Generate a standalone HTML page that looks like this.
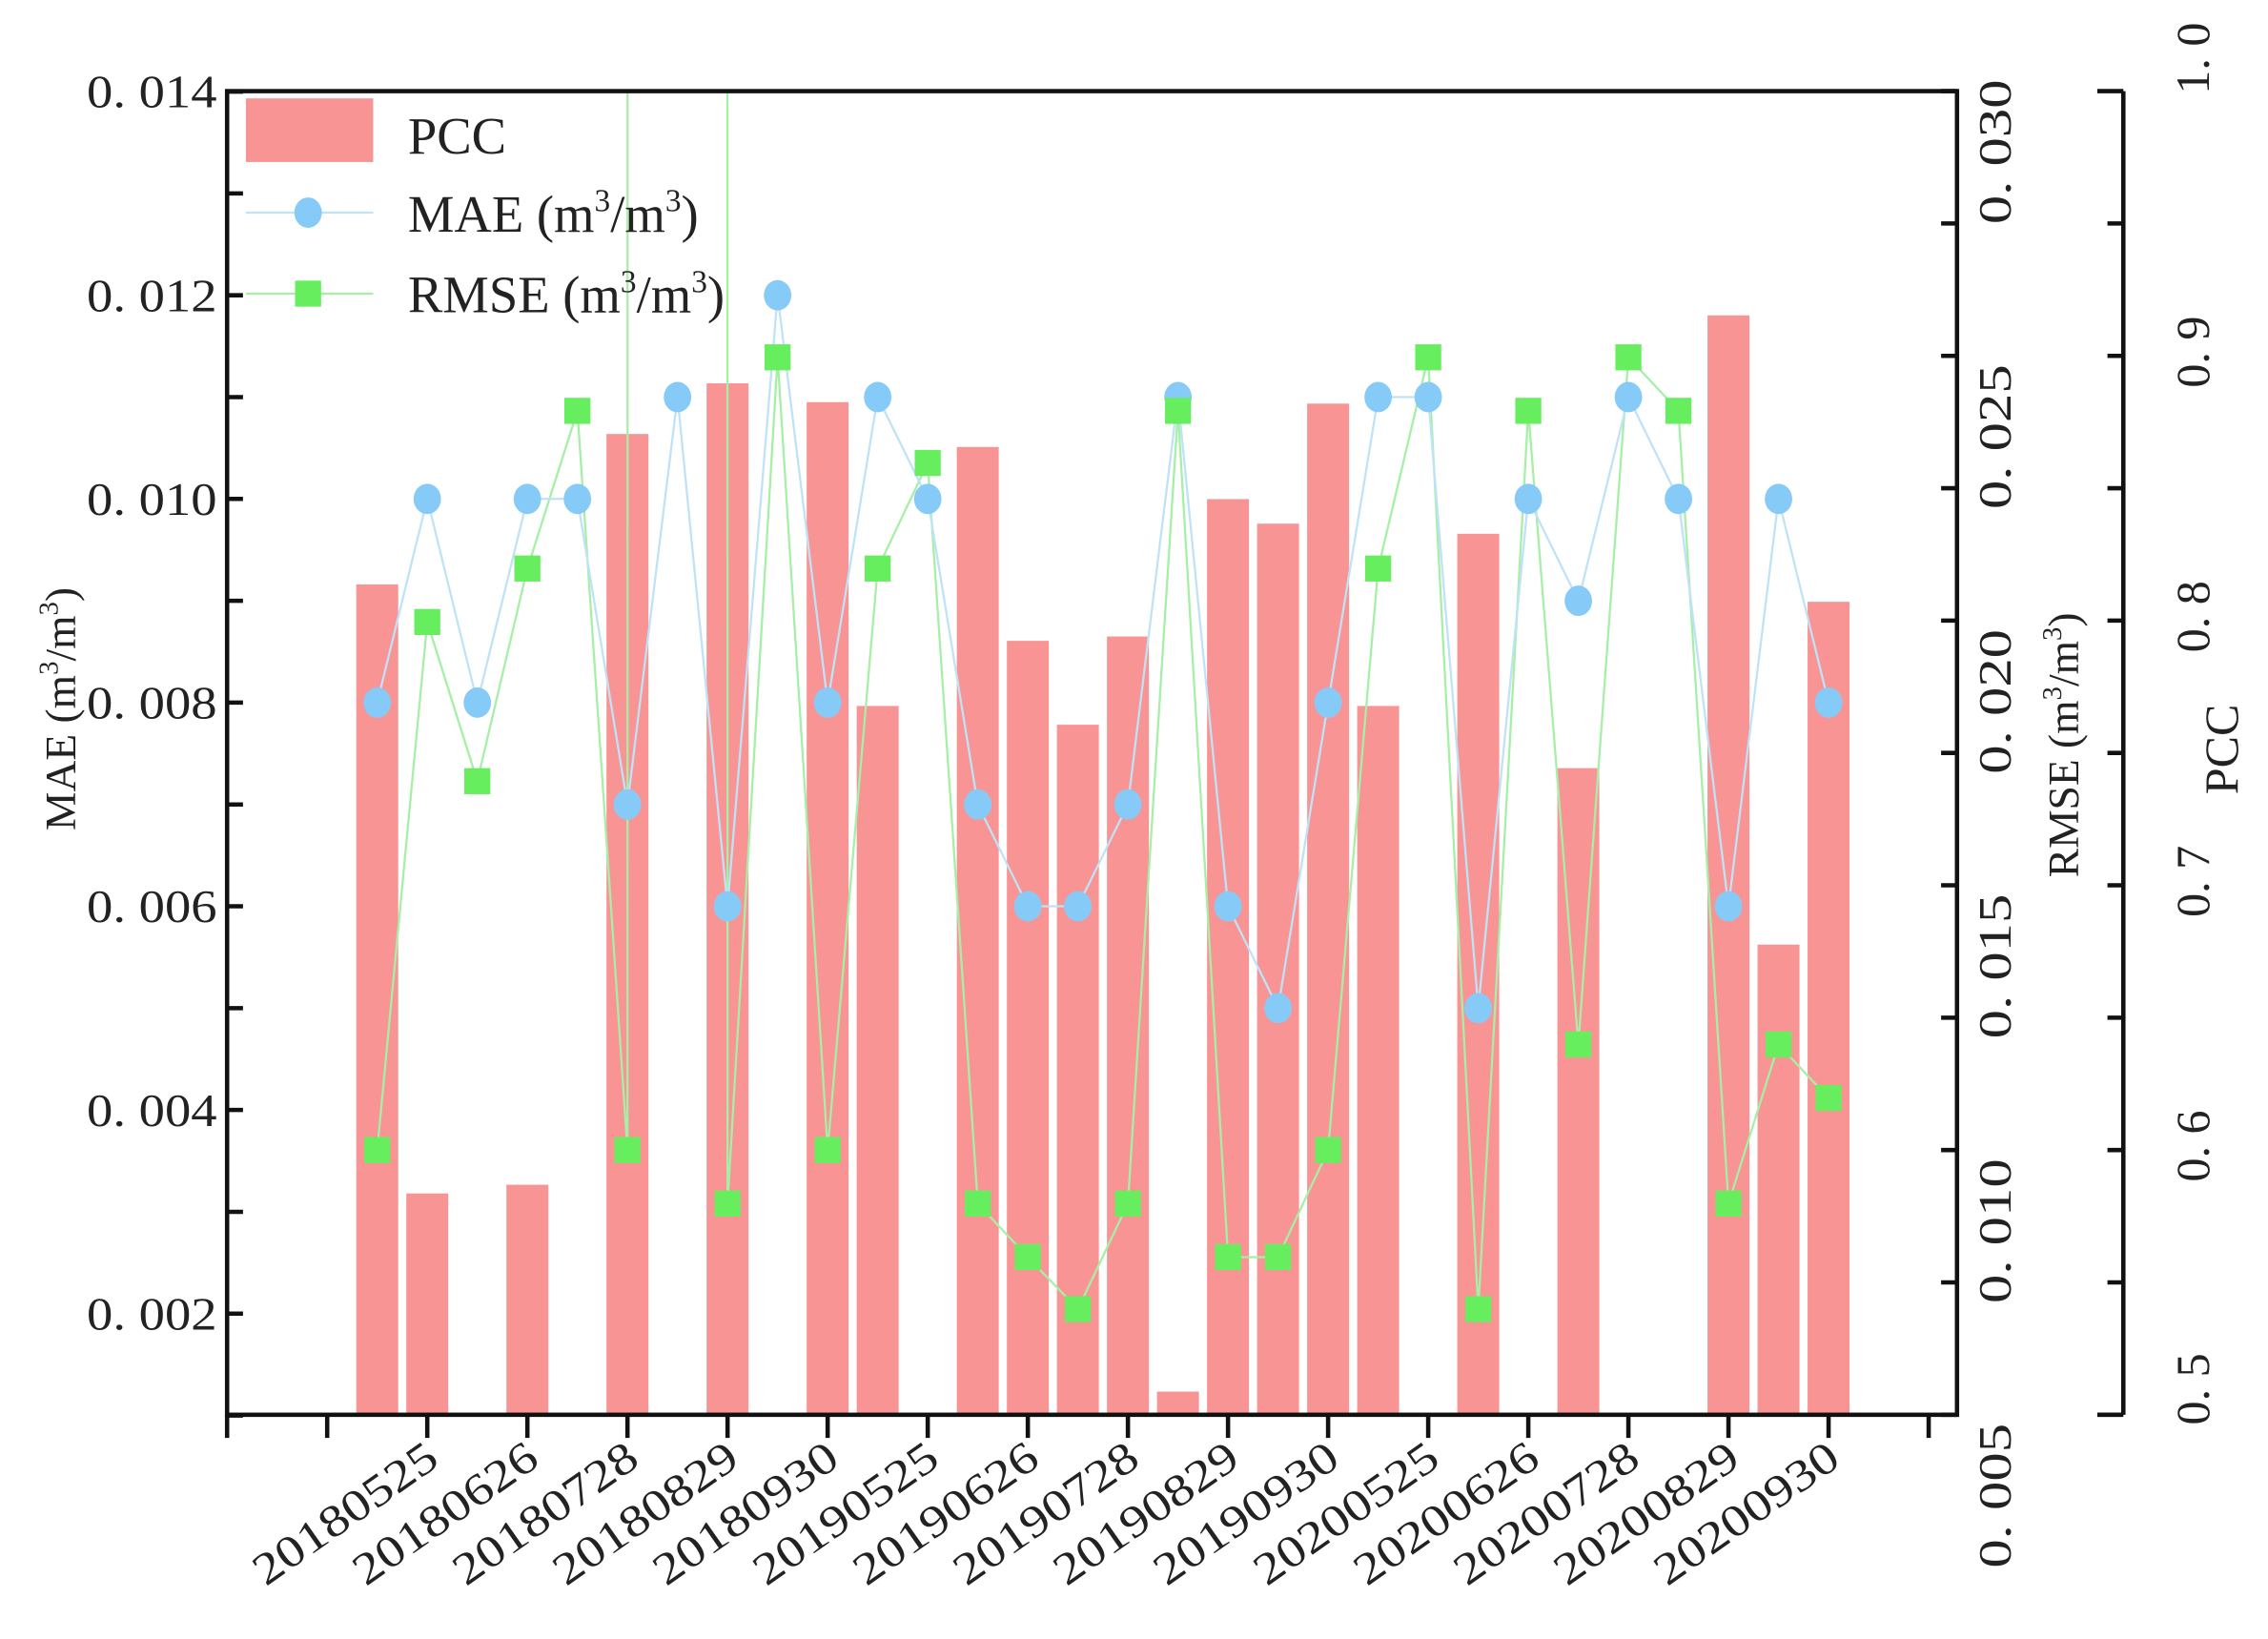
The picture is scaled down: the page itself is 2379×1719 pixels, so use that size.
<!DOCTYPE html>
<html><head><meta charset="utf-8"><style>
html,body{margin:0;padding:0;background:#fff;}
svg{display:block;}
text{font-family:"Liberation Serif","Noto Serif CJK SC",serif;fill:#222;}
</style></head><body>
<svg id="c" width="2379" height="1719" viewBox="0 0 1568 1133" xmlns="http://www.w3.org/2000/svg"></svg>
<script>
const s=document.getElementById('c');let h='';
const X=i=>157+34.6*(i+3);
const yM=v=>978.5-(v-0.001)/0.002*140.8;
const mae=[8,10,8,10,10,7,11,6,12,8,11,10,7,6,6,7,11,6,5,8,11,11,5,10,9,11,10,6,10,8].map(v=>v/1000);
const rm=[795,430,540,393,284,795,-300000,832,247,795,393,320,832,869,905,832,284,869,869,795,393,247,905,284,722,247,284,832,722,759];
const bars={0:404,1:825,3:819,5:300,7:265,9:278,10:488,12:309,13:443,14:501,15:440,16:962,17:345,18:362,19:279,20:488,22:369,24:531,27:218,28:653,29:416};
h+='<defs><clipPath id="cp"><rect x="157" y="63" width="1196" height="915"/></clipPath></defs>';
for(const k in bars){h+=`<rect x="${X(+k)-14.5}" y="${bars[k]}" width="29" height="${978-bars[k]}" fill="#F99494"/>`;}
h+='<g clip-path="url(#cp)">';
h+=`<polyline fill="none" stroke="#A6EFA6" stroke-width="1.5" points="${rm.map((y,i)=>X(i)+','+y).join(' ')}"/>`;
h+=`<polyline fill="none" stroke="#BFE2F7" stroke-width="1.5" points="${mae.map((v,i)=>X(i)+','+yM(v)).join(' ')}"/>`;
h+='</g>';
mae.forEach((v,i)=>{h+=`<ellipse cx="${X(i)}" cy="${yM(v)}" rx="9.5" ry="10.5" fill="#86CBF7"/>`;});
rm.forEach((y,i)=>{if(y>0)h+=`<rect x="${X(i)-9}" y="${y-9}" width="18" height="18" fill="#66EE5E"/>`;});
h+='<rect x="157" y="63" width="1196" height="915" fill="none" stroke="#111" stroke-width="3"/>';
for(let k=0;k<=13;k++){const v=0.001+k*0.001;const y=yM(v);h+=`<line x1="157" y1="${y}" x2="168" y2="${y}" stroke="#111" stroke-width="3"/>`;
 if(k%2==1){h+=`<text x="150" y="${y+11}" font-size="32" text-anchor="end" textLength="90" lengthAdjust="spacingAndGlyphs">0. ${String(Math.round(v*1000)).padStart(3,'0')}</text>`;}}
for(let k=0;k<=17;k++){const x=157+69.2*k;h+=`<line x1="${x}" y1="978" x2="${x}" y2="994" stroke="#111" stroke-width="3"/>`;}
const labs=['20180525','20180626','20180728','20180829','20180930','20190525','20190626','20190728','20190829','20190930','20200525','20200626','20200728','20200829','20200930'];
labs.forEach((l,j)=>{const x=295+69.2*j;h+=`<text transform="translate(${x+10},${1012}) rotate(-35)" font-size="31" text-anchor="end" textLength="148" lengthAdjust="spacingAndGlyphs">${l}</text>`;});
for(let k=0;k<=10;k++){const y=978-k*91.5;h+=`<line x1="1342" y1="${y}" x2="1353" y2="${y}" stroke="#111" stroke-width="3"/>`;
 if(k%2==0){const v=(0.005+k*0.0025).toFixed(3).slice(2);h+=`<text transform="translate(1390,${y+(k==10?-8:6)}) rotate(-90)" font-size="32" text-anchor="end" textLength="100" lengthAdjust="spacingAndGlyphs">0. ${v}</text>`;}}
h+='<line x1="1468" y1="63" x2="1468" y2="978" stroke="#111" stroke-width="3"/>';
for(let k=0;k<=10;k++){const y=978-k*91.5;h+=`<line x1="${k==0||k==10?1450:1457}" y1="${y}" x2="1468" y2="${y}" stroke="#111" stroke-width="3"/>`;
 if(k%2==0){h+=`<text transform="translate(1527,${y+(k==0?7:k==10?2:22)}) rotate(-90)" font-size="33" text-anchor="start">${(0.5+k*0.05).toFixed(1).replace('.','. ')}</text>`;}}
h+=`<text transform="translate(52,490) rotate(-90)" font-size="30" text-anchor="middle">MAE (m<tspan font-size="19" dy="-12">3</tspan><tspan dy="12">/m</tspan><tspan font-size="19" dy="-12">3</tspan><tspan dy="12">)</tspan></text>`;
h+=`<text transform="translate(1437,515) rotate(-90)" font-size="30" text-anchor="middle">RMSE (m<tspan font-size="19" dy="-12">3</tspan><tspan dy="12">/m</tspan><tspan font-size="19" dy="-12">3</tspan><tspan dy="12">)</tspan></text>`;
h+=`<text transform="translate(1547,518) rotate(-90)" font-size="33" text-anchor="middle">PCC</text>`;
h+='<rect x="170" y="68" width="88" height="44" fill="#F99494"/>';
h+='<text x="282" y="106" font-size="36" textLength="68" lengthAdjust="spacingAndGlyphs">PCC</text>';
h+='<line x1="170" y1="147" x2="258" y2="147" stroke="#BFE2F7" stroke-width="1.5"/><ellipse cx="213" cy="147" rx="9.5" ry="10.5" fill="#86CBF7"/>';
h+='<text x="282" y="160" font-size="36">MAE (m<tspan font-size="22" dy="-14">3</tspan><tspan dy="14">/m</tspan><tspan font-size="22" dy="-14">3</tspan><tspan dy="14">)</tspan></text>';
h+='<line x1="170" y1="203" x2="258" y2="203" stroke="#A6EFA6" stroke-width="1.5"/><rect x="204" y="194" width="18" height="18" fill="#66EE5E"/>';
h+='<text x="282" y="216" font-size="36">RMSE (m<tspan font-size="22" dy="-14">3</tspan><tspan dy="14">/m</tspan><tspan font-size="22" dy="-14">3</tspan><tspan dy="14">)</tspan></text>';
s.innerHTML=h;
</script>
</body></html>
